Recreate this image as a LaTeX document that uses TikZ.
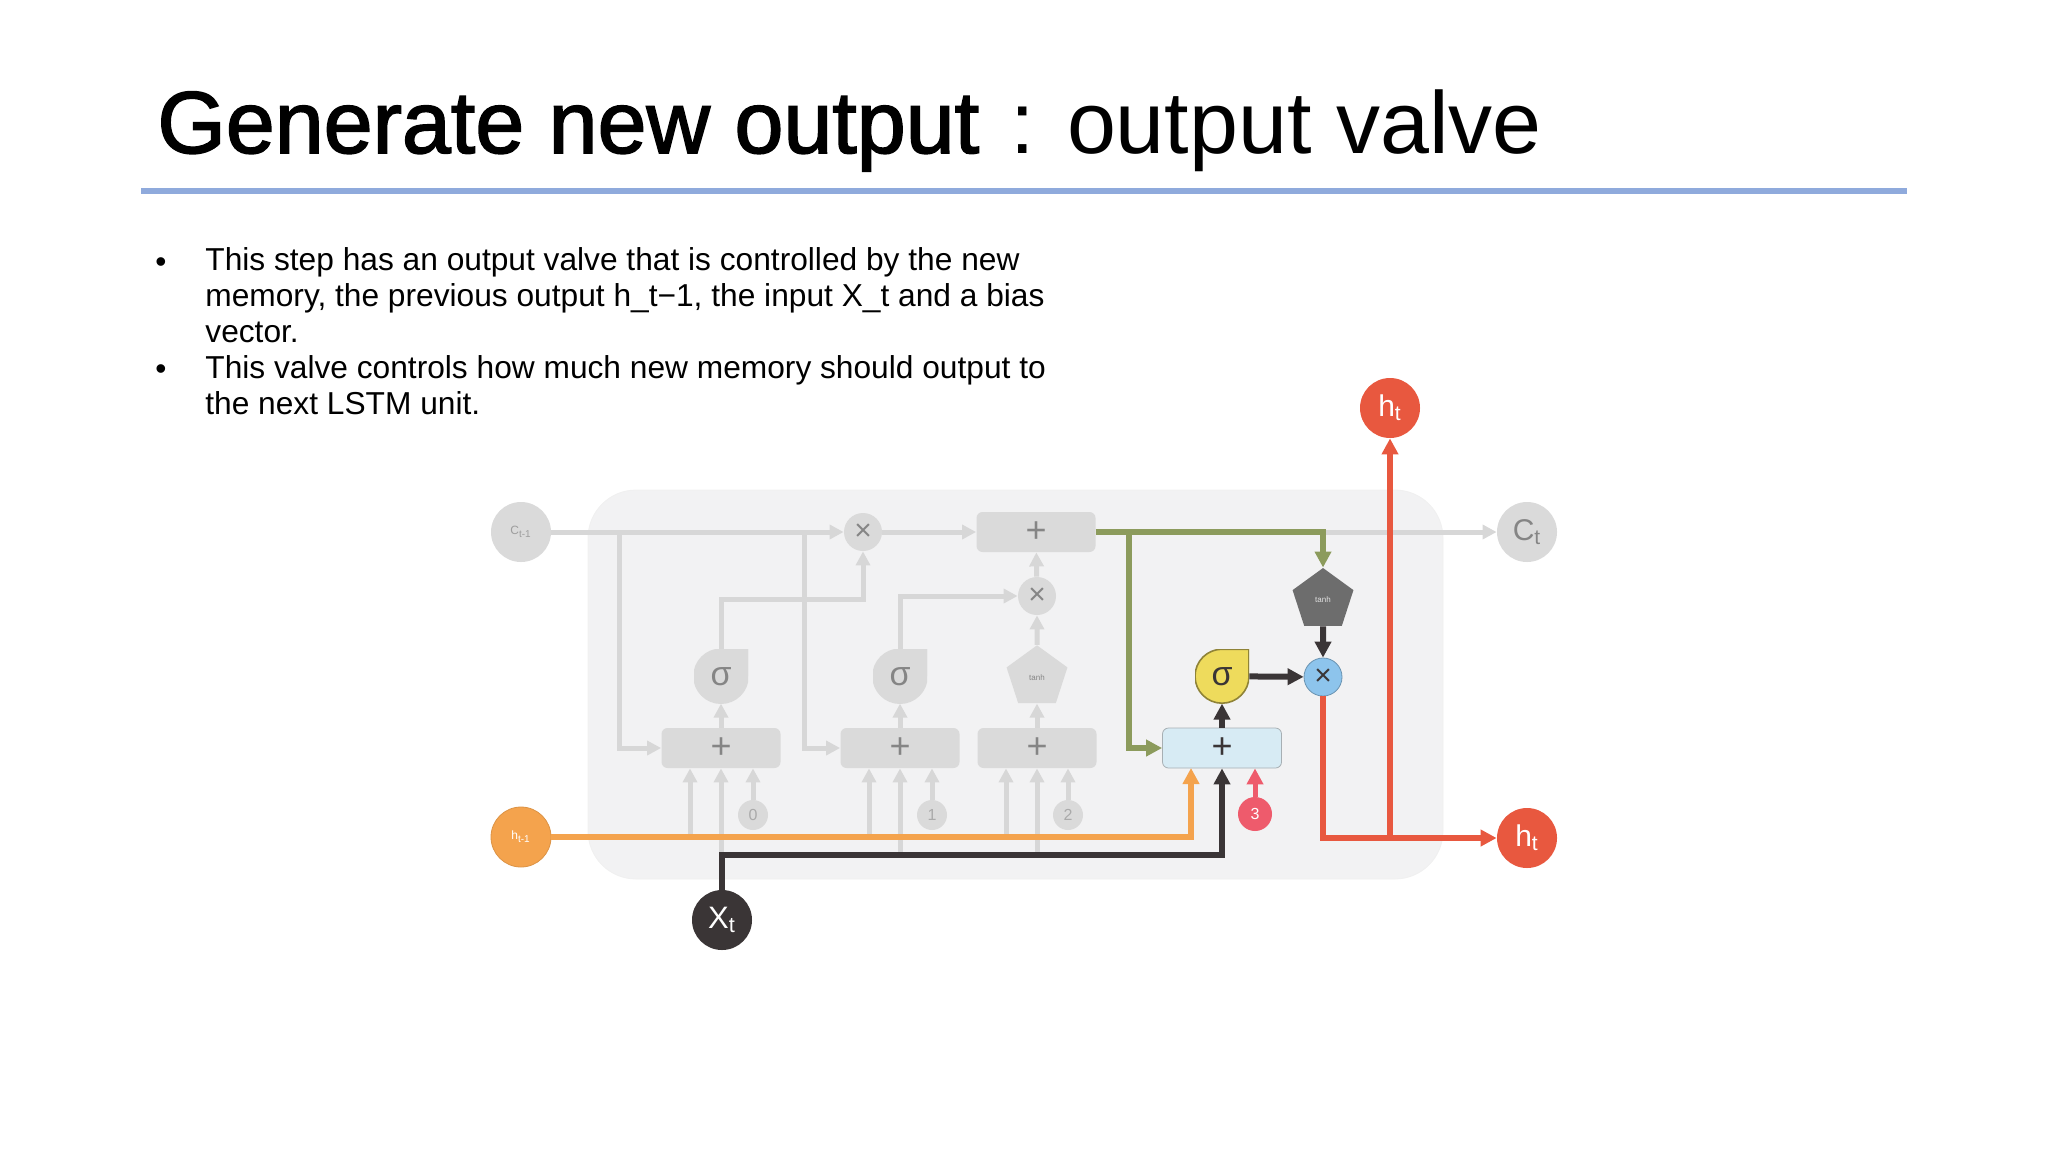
\documentclass[tikz,border=0pt]{standalone}
\usepackage{fontspec}
\setmainfont{Liberation Sans}
\newfontfamily\fakebold[FakeBold=1.8]{Liberation Sans}
\usetikzlibrary{arrows.meta, positioning, shapes.geometric}

\definecolor{rulecol}{HTML}{8FAADC}
\definecolor{cellbg}{HTML}{F2F2F3}
\definecolor{lline}{HTML}{D7D7D7}
\definecolor{lgate}{HTML}{DADADA}
\definecolor{gsym}{HTML}{858585}
\definecolor{hprev}{HTML}{F4A34D}
\definecolor{xdark}{HTML}{3A3536}
\definecolor{cgreen}{HTML}{8C9B5C}
\definecolor{hred}{HTML}{E8583F}
\definecolor{syel}{HTML}{EEDB5C}
\definecolor{xblue}{HTML}{8DC4EC}
\definecolor{pblue}{HTML}{D7EBF4}
\definecolor{bpink}{HTML}{EE5B6C}
\definecolor{tdark}{HTML}{6D6D6D}

\begin{document}
\begin{tikzpicture}[
    x=0.5pt, y=-0.5pt,
    % Styles
    txt/.style={inner sep=0pt, align=left, font=\fontsize{15.85}{17.8}\selectfont},
    state/.style={circle, minimum size=30pt, inner sep=0pt},
    mult/.style={circle, minimum size=19pt, inner sep=0pt, fill=lgate, text=gsym, font=\fontsize{15}{15}\selectfont},
    addbox/.style={rectangle, rounded corners=3pt, minimum width=59.5pt, minimum height=20pt, inner sep=0pt, fill=lgate, text=gsym, font=\fontsize{18}{18}\selectfont},
    sig/.style 2 args={rectangle, minimum size=27pt, inner sep=0pt, font=\fontsize{17}{17}\selectfont,
        path picture={\filldraw[fill=#1, draw=#2, line width=0.8pt] (path picture bounding box.east)
            arc[start angle=0, end angle=-270, radius=13.5pt] -- (path picture bounding box.north east) -- cycle;}},
    pent/.style={regular polygon, regular polygon sides=5, minimum size=32pt, inner sep=0pt, font=\fontsize{4}{4}\selectfont},
    bias/.style={circle, minimum size=15pt, inner sep=0pt, font=\fontsize{8}{8}\selectfont},
    gline/.style={draw=lline, line width=2.5pt},
    garrow/.style={gline, -{Triangle[length=7pt, width=7pt]}},
    carrow/.style={line width=3pt, -{Triangle[length=8pt, width=8pt]}}
]
\useasboundingbox (0,0) rectangle (2048,1152);

    % 1. TITLE
    \node[anchor=base west, inner sep=0pt, font=\fontsize{44}{52}\selectfont] (title) at (157,153)
        {{\fakebold Generate new output}\hspace{0.36em}:\hspace{0.36em}output valve};
    \draw[rulecol, line width=3pt] (141,191) -- (1907,191);

    % 2. BULLETS - base anchor sits on the last line
    \node[txt, anchor=base west] (pts1) at (205,342) {This step has an output valve that is controlled by the new\\memory, the previous output h\_t−1, the input X\_t and a bias\\vector.};
    \node[txt, anchor=base west] (pts2) at (205,414) {This valve controls how much new memory should output to\\the next LSTM unit.};
    \node[txt, anchor=base] (dot1) at (161,272) {•};
    \node[txt, anchor=base] (dot2) at (161,379) {•};

    % 3. CELL BACKGROUND
    \filldraw[fill=cellbg, draw=black!6, rounded corners=24pt] (588,490) rectangle (1443,879);

    % 4. STATES
    \node[state, fill=lgate, text=gsym!80, font=\fontsize{6}{6}\selectfont] (ctm1) at (521,532) {C\textsubscript{t-1}};
    \node[state, fill=lgate, text=gsym, font=\fontsize{15}{15}\selectfont] (ct) at (1527,532) {C\textsubscript{t}};
    \node[state, fill=hprev, draw=hprev!90!black, text=white, font=\fontsize{6}{6}\selectfont] (htm1) at (521,837) {h\textsubscript{t-1}};
    \node[state, fill=xdark, text=white, font=\fontsize{15.5}{15.5}\selectfont] (xt) at (722,920) {X\textsubscript{t}};
    \node[state, fill=hred, text=white, font=\fontsize{15}{15}\selectfont] (htout) at (1527,838) {h\textsubscript{t}};
    \node[state, fill=hred, text=white, font=\fontsize{15}{15}\selectfont] (httop) at (1390,408) {h\textsubscript{t}};

    % 5. GATES (faded)
    \node[mult] (fx1) at (863,532) {×};
    \node[addbox] (cadd) at (1036,532) {+};
    \node[mult] (ix2) at (1037,596) {×};
    \node[addbox] (add1) at (721,748) {+};
    \node[addbox] (add2) at (900,748) {+};
    \node[addbox] (add3) at (1037,748) {+};
    \node[sig={lgate}{lgate}, text=gsym, above=12pt of add1] (sg1) {σ};
    \node[sig={lgate}{lgate}, text=gsym, above=12pt of add2] (sg2) {σ};
    \node[pent, fill=lgate, text=gsym, above=12pt of add3] (th1) {tanh};
    \node[bias, fill=lgate, text=gsym!70] (b0) at (753,815) {0};
    \node[bias, fill=lgate, text=gsym!70] (b1) at (932,815) {1};
    \node[bias, fill=lgate, text=gsym!70] (b2) at (1068,815) {2};

    % 6. OUTPUT GATE
    \node[addbox, fill=pblue, draw=pblue!60!black!70, text=xdark] (addo) at (1222,748) {+};
    \node[sig={syel}{syel!60!black}, text=xdark, above=12pt of addo] (sgo) {σ};
    \node[pent, fill=tdark, text=white!80!tdark] (thc) at (1323,600) {tanh};
    \node[mult, fill=xblue, draw=xblue!75!black, text=xdark] (ox) at (1323,677) {×};
    \node[bias, minimum size=17pt, fill=bpink, text=white] (b3) at (1255,814) {3};

    % 7. FADED CONNECTORS
    \coordinate (br1) at (619,532);
    \coordinate (br2) at (804,532);
    \coordinate (fk) at (863,599);
    \coordinate (gk) at (1323,532);
    \draw[garrow] (ctm1) -- (fx1);
    \draw[garrow] (fx1) -- (cadd);
    \draw[garrow] (gk) -- (ct);
    \draw[garrow] (br1) |- (add1);
    \draw[garrow] (br2) |- (add2);
    \draw[garrow] (sg1) |- (fk) -- (fx1);
    \draw[garrow] (sg2) |- (ix2);
    \draw[garrow] (add1) -- (sg1);
    \draw[garrow] (add2) -- (sg2);
    \draw[garrow] (add3) -- (th1);
    \draw[garrow] (th1) -- (ix2);
    \draw[garrow] (ix2) -- (cadd);
    \foreach \b/\x in {add1/721, add2/900, add3/1037}{
        \coordinate (\b-h) at (\x-31,837);
        \coordinate (\b-x) at (\x,855);
        \draw[garrow] (\b-h) -- (\b-h |- \b.south);
        \draw[garrow] (\b-x) -- (\b.south);
    }
    \draw[garrow] (b0) -- (b0 |- add1.south);
    \draw[garrow] (b1) -- (b1 |- add2.south);
    \draw[garrow] (b2) -- (b2 |- add3.south);

    % 8. OUTPUT CONNECTORS
    \coordinate (addo-h) at (1191,768);
    \coordinate (addo-k) at (1222,855);
    \coordinate (gb) at (1129,532);
    \coordinate (rb) at (1390,838);
    \draw[carrow, hprev] (htm1) -| (addo-h);
    \draw[carrow, xdark] (xt) |- (addo-k) -- (addo);
    \draw[carrow, bpink, line width=2.5pt] (b3) -- (b3 |- addo.south);
    \draw[carrow, cgreen] (cadd) -| (thc);
    \draw[carrow, cgreen] (gb) |- (addo);
    \draw[carrow, xdark] (addo) -- (sgo);
    \draw[carrow, xdark] (sgo) -- (ox);
    \draw[carrow, xdark] (thc) -- (ox);
    \draw[carrow, hred] (ox) |- (htout);
    \draw[carrow, hred] (rb) -- (httop);

\end{tikzpicture}
\end{document}
